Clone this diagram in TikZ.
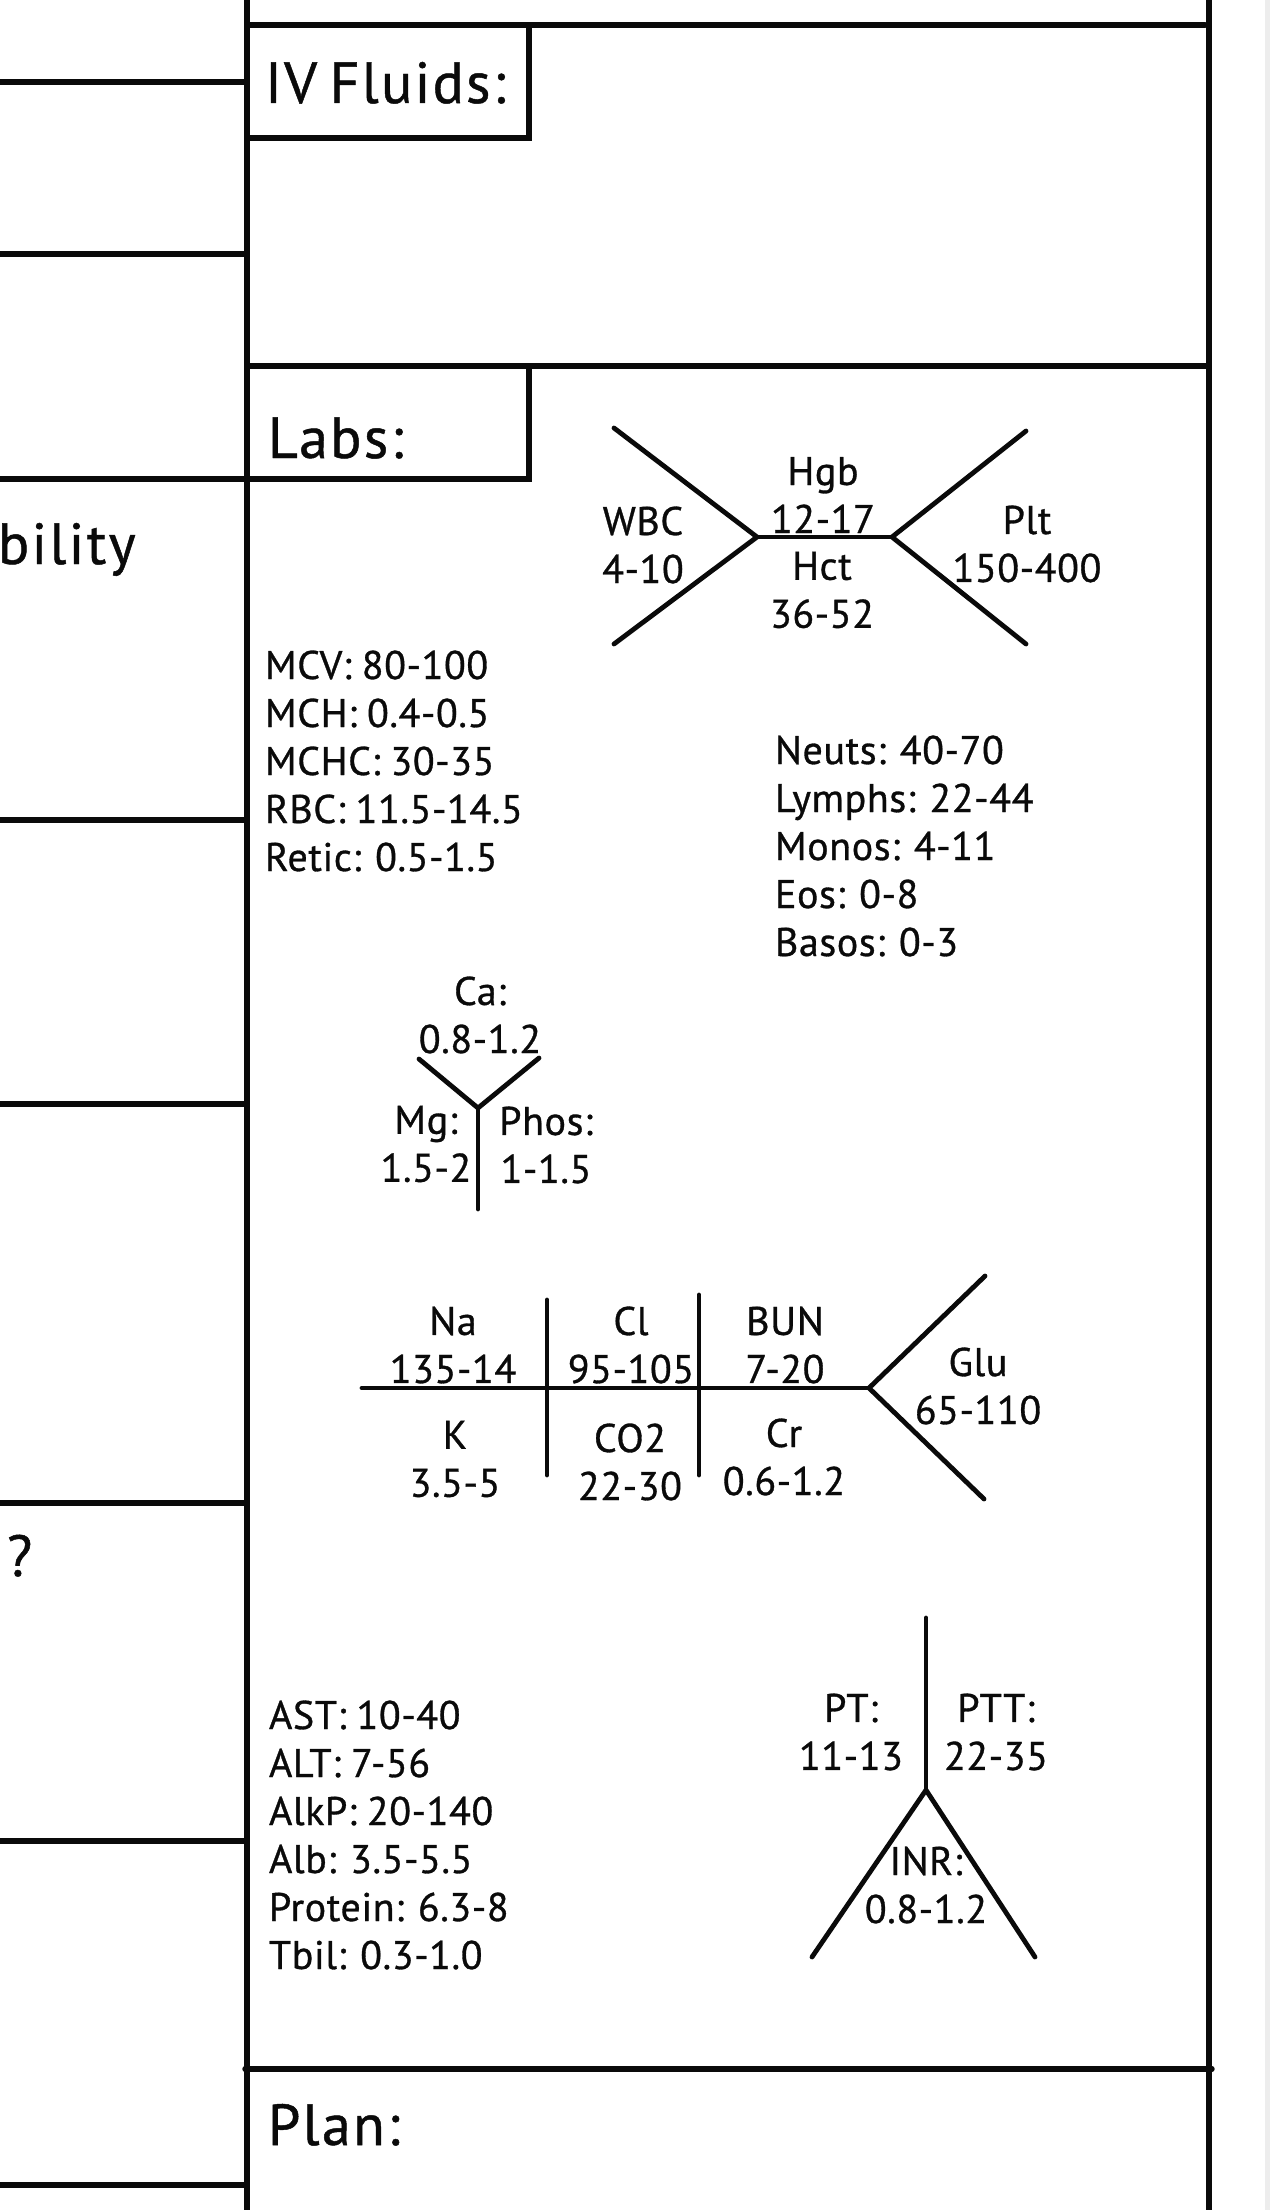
\documentclass[tikz,border=0pt]{standalone}
\usepackage{fontspec}
\setmainfont{PT Sans}
\newfontfamily\handfont[LetterSpace=4,WordSpace=0.7,FakeBold=0.8]{PT Sans}
\newfontfamily\valfont[LetterSpace=1.5,WordSpace=0.9,FakeBold=0.8]{PT Sans}
\usetikzlibrary{positioning}
\definecolor{cInk}{HTML}{0A0A0A}
\definecolor{cEdge}{HTML}{EDEDED}
\tikzset{
  frame/.style ={draw=cInk,line width=2.7pt,line cap=round},
  bone/.style  ={draw=cInk,line width=2.4pt,line cap=round,line join=round},
  hdr/.style   ={font=\handfont\fontsize{29}{35}\selectfont,text=cInk,
                 inner sep=0pt,anchor=base west},
  val/.style   ={font=\valfont\fontsize{20}{24}\selectfont,text=cInk,
                 inner sep=0pt,align=center},
  row/.style   ={val,anchor=base west},
}

\begin{document}
\begin{tikzpicture}[x=0.5pt,y=-0.5pt,every node/.style={outer sep=0pt}]
\useasboundingbox (0,0) rectangle (1270,2210);
\fill[cEdge] (1265,0) rectangle (1270,2210);

% sheet frame: two rails, the section rules hang off them
\coordinate (railL) at (247,0);
\coordinate (railR) at (1209,0);
\draw[frame] (railL) -- (247,2210);
\draw[frame] (railR) -- (1209,2210);
\draw[frame] (railL |- 0,25) -- (1205,25);
\draw[frame] (railL |- 0,366) -- (railR |- 0,366);
\draw[frame] (245,2069) -- (1212,2069);
\draw[frame] (railL |- 0,138) -| (529,25);
\draw[frame] (0,479) -| (529,366);
\foreach \y in {82,254,820,1104,1503,1841,2185}{\draw[frame] (0,\y) -- (railL |- 0,\y);}

\node[hdr] (ivfl) at (265,103) {IV Fluids:};
\node[hdr] (labs) at (268,458) {Labs:};
\node[hdr] (plan) at (268,2145) {Plan:};
\node[hdr] (cutA) at (-2,564) {bility};
\node[hdr] (cutB) at (7,1576) {?};

% CBC fishbone
\coordinate (cbcW) at (757,537);
\coordinate (cbcP) at (892,537);
\draw[bone] (cbcW) ++(-143,-109) -- (cbcW) -- ++(-143,107);
\draw[bone] (cbcW) -- (cbcP);
\draw[bone] (cbcP) ++(134,-106) -- (cbcP) -- ++(134,107);
\node[val] (wbc) at (643,545) {WBC\\4-10};
\node[val] (hgb) at (823,495) {Hgb\\12-17};
\node[val] (hct) at (822,590) {Hct\\36-52};
\node[val] (plt) at (1027,544) {Plt\\150-400};

\foreach \t [count=\i] in {MCV: 80-100,MCH: 0.4-0.5,MCHC: 30-35,RBC: 11.5-14.5,Retic: 0.5-1.5}
  {\node[row] (idx\i) at (265,{631+48*\i}) {\t};}
\foreach \t [count=\i] in {Neuts: 40-70,Lymphs: 22-44,Monos: 4-11,Eos: 0-8,Basos: 0-3}
  {\node[row] (diff\i) at (775,{716+48*\i}) {\t};}

% Ca / Mg / Phos
\coordinate (minJ) at (478,1108);
\draw[bone] (419,1059) -- (minJ) -- (539,1058);
\draw[bone] (minJ) -- (478,1209);
\node[val] (ca)   at (480,1015) {Ca:\\0.8-1.2};
\node[val] (mg)   at (426,1144) {Mg:\\1.5-2};
\node[val] (phos) at (546,1145) {Phos:\\1-1.5};

% BMP fishbone
\coordinate (bmpS) at (362,1388);
\coordinate (bmpG) at (869,1388);
\draw[bone] (bmpS) -- (bmpG);
\draw[bone] (547,1300) -- (547,1475);
\draw[bone] (699,1295) -- (699,1475);
\draw[bone] (985,1276) -- (bmpG) -- (984,1499);
\node[val] (na)  at (453,1345) {Na\\135-14};
\node[val] (cl)  at (631,1345) {Cl\\95-105};
\node[val] (bun) at (785,1345) {BUN\\7-20};
\node[val] (k)   at (455,1459) {K\\3.5-5};
\node[val] (co2) at (630,1462) {CO2\\22-30};
\node[val] (cr)  at (784,1457) {Cr\\0.6-1.2};
\node[val] (glu) at (978,1386) {Glu\\65-110};

\foreach \t [count=\i] in {AST: 10-40,ALT: 7-56,AlkP: 20-140,Alb: 3.5-5.5,Protein: 6.3-8,Tbil: 0.3-1.0}
  {\node[row] (lft\i) at (269,{1681+48*\i}) {\t};}

% coags
\coordinate (coagJ) at (926,1790);
\draw[bone] (926,1618) -- (coagJ);
\draw[bone] (812,1957) -- (coagJ) -- (1035,1957);
\node[val] (pt)  at (851,1732) {PT:\\11-13};
\node[val] (ptt) at (996,1732) {PTT:\\22-35};
\node[val] (inr) at (926,1885) {INR:\\0.8-1.2};
\end{tikzpicture}
\end{document}
